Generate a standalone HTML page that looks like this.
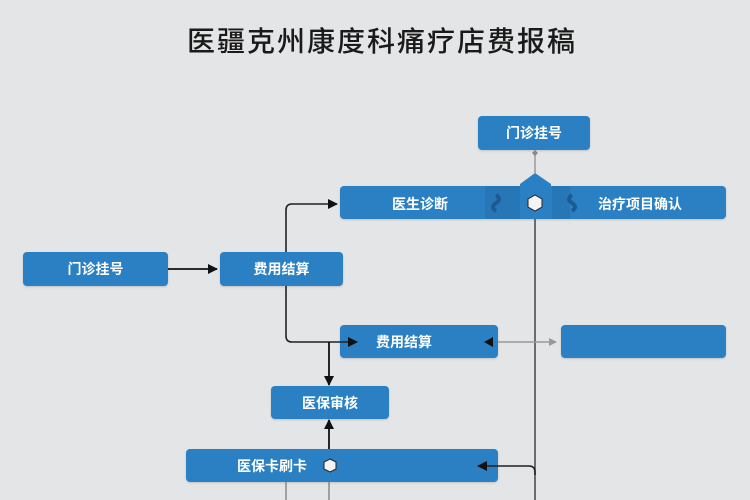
<!DOCTYPE html>
<html><head><meta charset="utf-8"><style>
body{margin:0;width:750px;height:500px;background:#e4e5e7;overflow:hidden;position:relative;font-family:"Liberation Sans","Noto Sans CJK SC",sans-serif}
.t{position:absolute;top:20px;left:7px;width:750px;text-align:center;font-size:28px;letter-spacing:2px;color:#1a1a1a;font-weight:500}
.b{position:absolute;background:#2a80c2;border-radius:4px;color:#fff;font-weight:bold;font-size:14px;display:flex;align-items:center;justify-content:center;box-shadow:0 1px 2px rgba(0,0,0,.15)}
svg{position:absolute;left:0;top:0}
</style></head><body>
<div class="t">医疆克州康度科痛疗店费报稿</div>
<div class="b" style="left:478px;top:116px;width:112px;height:34px">门诊挂号</div>
<div class="b" style="left:340px;top:186px;width:386px;height:33px"></div>
<div class="b" style="left:23px;top:252px;width:145px;height:34px">门诊挂号</div>
<div class="b" style="left:220px;top:252px;width:123px;height:34px">费用结算</div>
<div class="b" style="left:340px;top:325px;width:158px;height:33px;padding-right:30px;box-sizing:border-box">费用结算</div>
<div class="b" style="left:561px;top:325px;width:165px;height:33px"></div>
<div class="b" style="left:271px;top:386px;width:118px;height:33px">医保审核</div>
<div class="b" style="left:186px;top:449px;width:312px;height:33px"></div>
<svg width="750" height="500">
<defs>
<marker id="a" markerWidth="10" markerHeight="10" refX="9" refY="5" orient="auto" markerUnits="userSpaceOnUse"><path d="M0,0L10,5L0,10z" fill="#111"/></marker>
<marker id="g" markerWidth="8" markerHeight="8" refX="7" refY="4" orient="auto" markerUnits="userSpaceOnUse"><path d="M0,0L8,4L0,8z" fill="#999"/></marker>
</defs>
<path d="M520,187L520,184L535,173L551,184L551,187z" fill="#2a80c2"/>
<rect x="485" y="186" width="35" height="33" fill="#2777b6"/>
<rect x="552" y="186" width="18" height="33" fill="#2777b6"/>
<line x1="535" y1="150" x2="535" y2="173" stroke="#999" stroke-width="1.5"/>
<path d="M535,150l3,3-3,3-3-3z" fill="#888"/>
<path d="M496,195q6,4 0,8q-6,4 0,8" stroke="#1c5a92" stroke-width="4" fill="none"/>
<path d="M572,195q-6,4 0,8q6,4 0,8" stroke="#1c5a92" stroke-width="4" fill="none"/>
<path d="M535,195l7,4v8l-7,4l-7-4v-8z" fill="#f4f4f4" stroke="#222" stroke-width="1"/>
<text x="420" y="209" fill="#fff" font-size="14" font-weight="bold" text-anchor="middle">医生诊断</text>
<text x="640" y="209" fill="#fff" font-size="14" font-weight="bold" text-anchor="middle">治疗项目确认</text>
<line x1="535" y1="219" x2="535" y2="500" stroke="#444" stroke-width="1.5"/>
<line x1="168" y1="269" x2="217" y2="269" stroke="#111" stroke-width="1.8" marker-end="url(#a)"/>
<path d="M286,252V210q0-6 6-6H337" stroke="#222" stroke-width="1.6" fill="none" marker-end="url(#a)"/>
<path d="M286,286V336q0,6 6,6H357" stroke="#222" stroke-width="1.6" fill="none" marker-end="url(#a)"/>
<path d="M493,337l-9,5 9,5z" fill="#111"/>
<line x1="498" y1="342" x2="556" y2="342" stroke="#999" stroke-width="1.5" marker-end="url(#g)"/>
<line x1="329" y1="342" x2="329" y2="385" stroke="#111" stroke-width="1.8" marker-end="url(#a)"/>
<line x1="329" y1="449" x2="329" y2="420" stroke="#111" stroke-width="1.8" marker-end="url(#a)"/>
<path d="M535,475V472q0-6-6-6H478" stroke="#222" stroke-width="1.6" fill="none" marker-end="url(#a)"/>
<text x="272" y="471" fill="#fff" font-size="14" font-weight="bold" text-anchor="middle">医保卡刷卡</text>
<path d="M330,459l6,3v7l-6,3l-6-3v-7z" fill="#f4f4f4" stroke="#222" stroke-width="1"/>
<line x1="286" y1="482" x2="286" y2="500" stroke="#888" stroke-width="1.5"/>
<line x1="329" y1="482" x2="329" y2="500" stroke="#888" stroke-width="1.5"/>
</svg>
</body></html>
